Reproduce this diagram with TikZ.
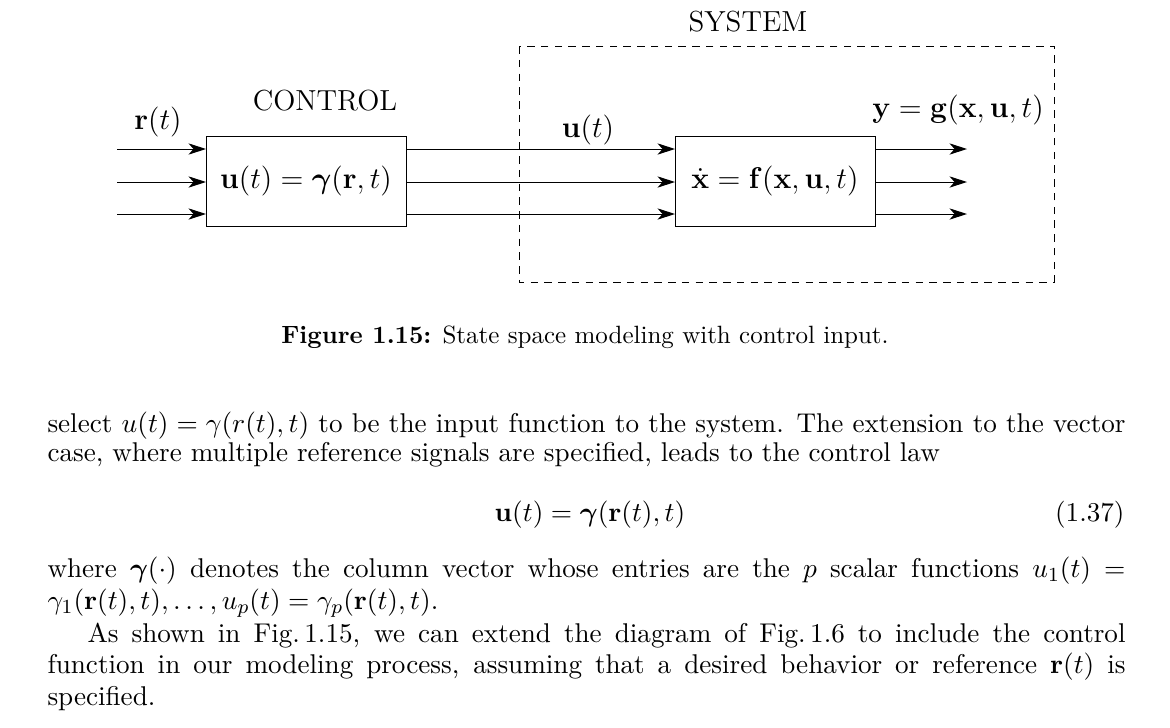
\documentclass[tikz,border=0pt]{standalone}
\usepackage{amsmath,bm}
\usetikzlibrary{arrows.meta}
\begin{document}
\begin{tikzpicture}[x=0.4pt,y=-0.4pt,
  box/.style={draw,line width=0.4pt,font=\fontsize{11.6}{14}\selectfont},
  dl/.style={font=\fontsize{11.6}{14}\selectfont},
  sig/.style={-{Stealth[length=7pt,width=4.5pt,inset=2pt]},line width=0.4pt},
  ln/.style={anchor=base west,inner sep=0pt,font=\fontsize{10.85}{13}\selectfont}]
\useasboundingbox (0,0) rectangle (1170,727);
\draw[dash pattern=on 3pt off 2.5pt,line width=0.4pt] (519,46) rectangle (1054,282);
\node[dl] (sys) at (748,22) {SYSTEM};
\node[dl] (ctl) at (325,101) {CONTROL};
\node[box,minimum width=80pt,minimum height=36pt] (C) at (306,181) {$\mathbf{u}(t)=\bm{\gamma}(\mathbf{r},t)$};
\node[box,minimum width=80pt,minimum height=36pt] (S) at (775,181) {$\dot{\mathbf{x}}=\mathbf{f}(\mathbf{x},\mathbf{u},t)$};
\foreach \yy/\n in {149/a,182/b,214/c}{
  \coordinate (in\n) at (117,\yy);
  \coordinate (ci\n) at (206,\yy);
  \coordinate (co\n) at (406,\yy);
  \coordinate (si\n) at (675,\yy);
  \coordinate (so\n) at (875,\yy);
  \coordinate (out\n) at (967,\yy);
  \draw[sig] (in\n) -- (ci\n);
  \draw[sig] (co\n) -- (si\n);
  \draw[sig] (so\n) -- (out\n);
}
\node[dl] (r) at (158,122) {$\mathbf{r}(t)$};
\node[dl] (u) at (588,130) {$\mathbf{u}(t)$};
\node[dl] (y) at (958,110) {$\mathbf{y}=\mathbf{g}(\mathbf{x},\mathbf{u},t)$};
\node (cap) at (585,337) {\textbf{Figure 1.15:} State space modeling with control input.};
\node[ln] (l1) at (47,432) {\makebox[431.2pt][s]{select $u(t)=\gamma(r(t),t)$ to be the input function to the system. The extension to the vector}};
\node[ln] (l2) at (47,461) {case, where multiple reference signals are specified, leads to the control law};
\node[ln,anchor=center] (eq) at (590,515) {$\mathbf{u}(t)=\bm{\gamma}(\mathbf{r}(t),t)$};
\node[ln,anchor=east] (en) at (1125,515) {(1.37)};
\node[ln] (l3) at (47,577) {\makebox[431.2pt][s]{where $\bm{\gamma}(\cdot)$ denotes the column vector whose entries are the $p$ scalar functions $u_1(t)$ $=$}};
\node[ln] (l4) at (47,609) {$\gamma_1(\mathbf{r}(t),t),\ldots,u_p(t)=\gamma_p(\mathbf{r}(t),t)$.};
\node[ln] (l5) at (87,642) {\makebox[415.2pt][s]{As shown in Fig.\,1.15, we can extend the diagram of Fig.\,1.6 to include the control}};
\node[ln] (l6) at (47,673) {\makebox[431.2pt][s]{function in our modeling process, assuming that a desired behavior or reference $\mathbf{r}(t)$ is}};
\node[ln] (l7) at (47,705) {specified.};
\end{tikzpicture}
\end{document}
